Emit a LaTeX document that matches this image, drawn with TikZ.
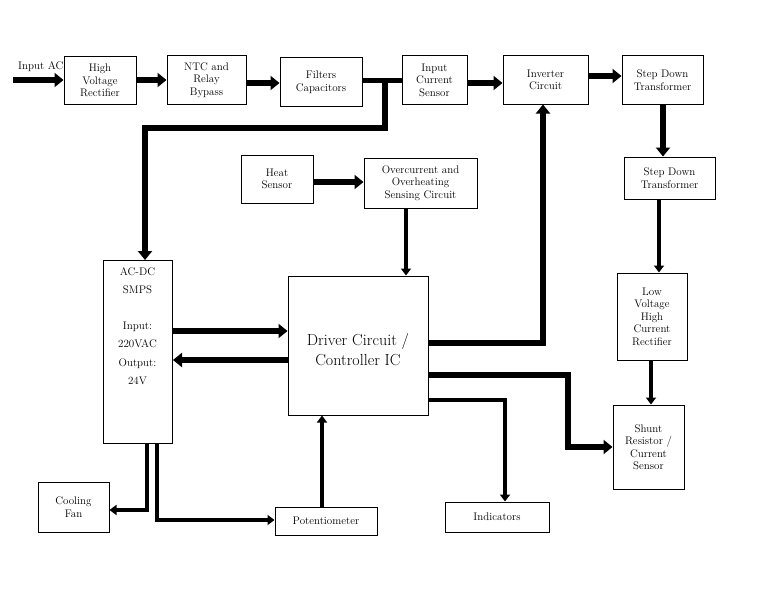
\documentclass[tikz,border=0pt]{standalone}
\usetikzlibrary{arrows.meta}
\begin{document}
\begin{tikzpicture}[x=1pt,y=-1pt,
 box/.style={draw,line width=1pt,align=center,font=\fontsize{11}{12.5}\selectfont,inner sep=0pt},
 big/.style={line width=6pt,-{Triangle[length=9pt,width=14pt]}},
 med/.style={line width=4pt,-{Triangle[length=7pt,width=10pt]}},
 plain/.style={line width=5pt}]
\useasboundingbox (0,0) rectangle (768,594);
\newcommand\bx[6]{\node[box,minimum width=#4-#2,minimum height=#5-#3] (#1) at ({(#2+#4)/2},{(#3+#5)/2}) {#6};}
\bx{hvr}{64}{57}{136}{104}{High\\Voltage\\Rectifier}
\bx{ntc}{167}{56}{246}{104}{NTC and\\Relay\\Bypass}
\bx{fil}{280}{58}{362}{106}{Filters\\Capacitors}
\bx{ics}{402}{56}{467}{104}{Input\\Current\\Sensor}
\bx{inv}{503}{56}{588}{104}{Inverter\\Circuit}
\bx{sd1}{622}{56}{703}{104}{Step Down\\Transformer}
\bx{sd2}{624}{157}{715}{199}{Step Down\\Transformer}
\bx{heat}{241}{155}{313}{203}{Heat\\Sensor}
\bx{oc}{364}{158}{477}{208}{Overcurrent and\\Overheating\\Sensing Circuit}
\node[box,minimum width=69,minimum height=183,anchor=north west,align=center] (smps) at (103,260) {};
\node[font=\fontsize{11}{12.5}\selectfont,anchor=north,align=center] (smpst) at (137.5,264) {AC-DC\\[6pt]SMPS\\[23pt]Input:\\[6pt]220VAC\\[6pt]Output:\\[6pt]24V};
\bx{drv}{288}{276}{428}{415}{}
\node[font=\fontsize{16}{20}\selectfont,align=center] (drvt) at (358,350) {Driver Circuit /\\Controller IC};
\bx{lv}{617}{273}{687}{360}{Low\\Voltage\\High\\Current\\Rectifier}
\bx{sh}{613}{405}{684}{489}{Shunt\\Resistor /\\Current\\Sensor}
\bx{fan}{38}{482}{109}{532}{Cooling\\Fan}
\bx{pot}{275}{507}{377}{535}{Potentiometer}
\bx{ind}{445}{502}{549}{532}{Indicators}
\node[font=\fontsize{11}{12.5}\selectfont,anchor=west,inner sep=0pt] (inac) at (18,67) {Input AC};
\coordinate (s0) at (13,80);
\draw[big] (s0) -- (hvr.west |- s0);
\draw[big] (hvr.east |- 0,80) -- (ntc.west |- 0,80);
\draw[big] (ntc.east |- 0,83) -- (fil.west |- 0,83);
\draw[plain] (fil.east |- 0,80) -- (ics.west |- 0,80);
\draw[big] (385,80) -- (385,128) -- (145,128) -- (smps.north -| 145,0);
\draw[big] (ics.east |- 0,83) -- (inv.west |- 0,83);
\draw[big] (inv.east |- 0,76) -- (sd1.west |- 0,76);
\draw[big] (sd1.south -| 663,0) -- (sd2.north -| 663,0);
\draw[med] (sd2.south -| 659,0) -- (lv.north -| 659,0);
\draw[med] (lv.south -| 651,0) -- (sh.north -| 651,0);
\draw[big] (heat.east |- 0,182) -- (oc.west |- 0,182);
\draw[med] (oc.south -| 406,0) -- (drv.north -| 406,0);
\draw[big] (drv.east |- 0,343) -- (543,343) -- (inv.south -| 543,0);
\draw[big] (drv.east |- 0,375) -- (568,375) -- (568,447) -- (sh.west |- 0,447);
\draw[med] (drv.east |- 0,400) -- (505,400) -- (ind.north -| 505,0);
\draw[big] (smps.east |- 0,331) -- (drv.west |- 0,331);
\draw[big] (drv.west |- 0,360) -- (smps.east |- 0,360);
\draw[med] (smps.south -| 147,0) -- (147,510) -- (fan.east |- 0,510);
\draw[med] (smps.south -| 157,0) -- (157,520) -- (pot.west |- 0,520);
\draw[med] (pot.north -| 322,0) -- (drv.south -| 322,0);
\end{tikzpicture}
\end{document}
